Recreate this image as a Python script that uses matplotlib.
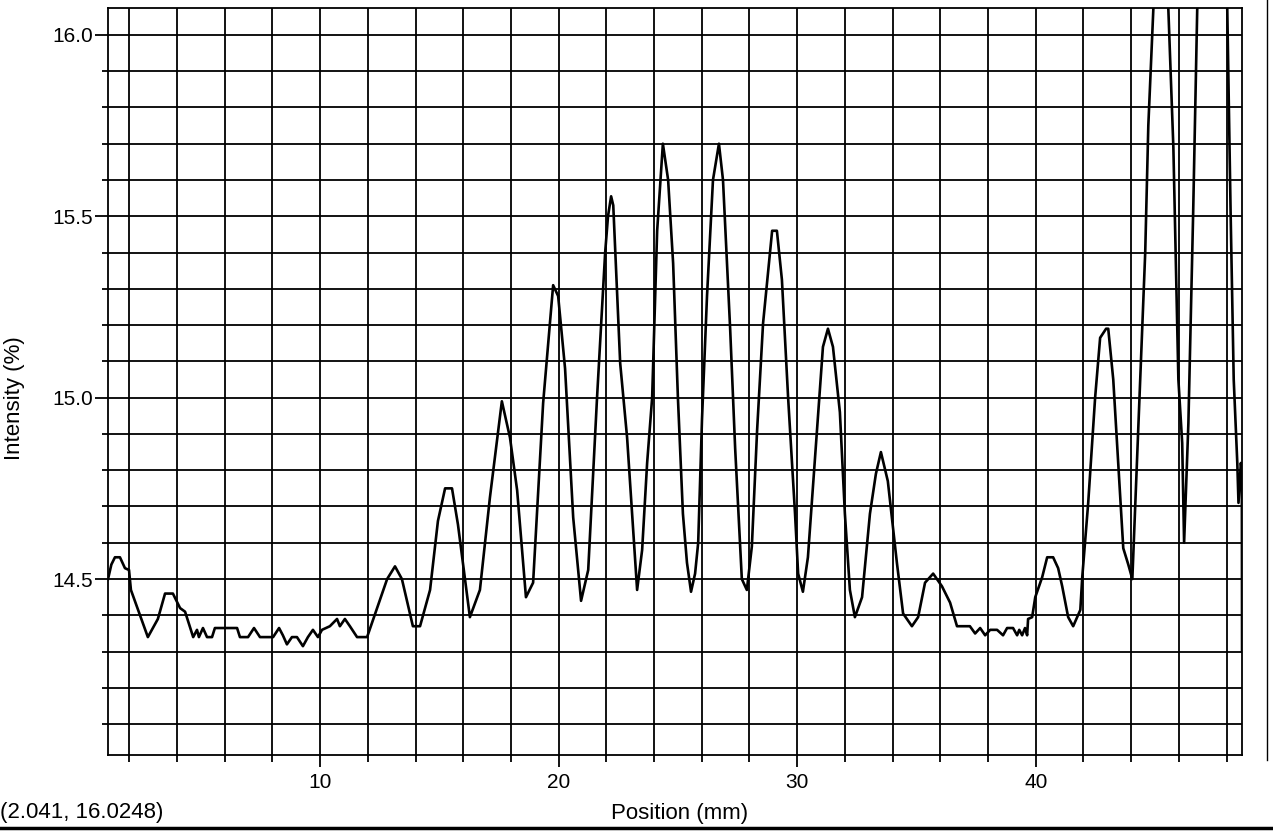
import matplotlib
matplotlib.use("Agg")
import matplotlib.pyplot as plt
from matplotlib.ticker import MultipleLocator, FormatStrFormatter
from matplotlib.lines import Line2D

plt.rcParams['font.family'] = ['Liberation Sans', 'DejaVu Sans']

# profile: position (mm) and intensity (%)
position = [
    1.11, 1.25, 1.40, 1.61, 1.82, 1.99, 2.07, 2.78, 3.20, 3.50,
    3.83, 4.13, 4.34, 4.68, 4.84, 4.92, 5.09, 5.26, 5.47, 5.59,
    6.52, 6.64, 6.98, 7.23, 7.48, 8.03, 8.28, 8.44, 8.61, 8.82,
    9.03, 9.28, 9.49, 9.70, 9.91, 10.08, 10.41, 10.71, 10.83, 11.04,
    11.25, 11.55, 11.97, 12.39, 12.81, 13.14, 13.43, 13.89, 14.19, 14.61,
    14.94, 15.24, 15.53, 15.78, 16.28, 16.70, 17.12, 17.62, 17.96, 18.26,
    18.63, 18.93, 19.35, 19.77, 19.98, 20.27, 20.61, 20.94, 21.24, 21.61,
    21.95, 22.07, 22.20, 22.29, 22.58, 22.87, 23.29, 23.50, 23.71, 23.92,
    24.13, 24.37, 24.59, 24.80, 25.00, 25.21, 25.38, 25.55, 25.72, 25.85,
    26.01, 26.22, 26.47, 26.72, 26.89, 27.19, 27.40, 27.68, 27.89, 28.10,
    28.32, 28.57, 28.95, 29.15, 29.36, 29.62, 29.91, 30.04, 30.24, 30.45,
    30.83, 31.08, 31.29, 31.50, 31.79, 32.00, 32.21, 32.42, 32.72, 33.05,
    33.30, 33.51, 33.80, 34.18, 34.44, 34.81, 35.07, 35.36, 35.70, 36.07,
    36.41, 36.70, 37.24, 37.46, 37.67, 37.88, 38.09, 38.38, 38.63, 38.80,
    39.05, 39.22, 39.31, 39.43, 39.55, 39.64, 39.68, 39.85, 39.98, 40.27,
    40.48, 40.73, 40.94, 41.11, 41.36, 41.57, 41.87, 41.95, 42.20, 42.49,
    42.70, 42.95, 43.04, 43.25, 43.46, 43.67, 43.88, 44.05, 44.17, 44.38,
    44.59, 44.72, 44.93, 45.25, 45.56, 45.77, 45.98, 46.14, 46.22, 46.40,
    46.60, 46.77, 47.40, 48.03, 48.17, 48.30, 48.45, 48.50, 48.60, 48.64,
    48.65,
]
intensity = [
    14.50, 14.54, 14.56, 14.56, 14.53, 14.525, 14.47, 14.34, 14.39, 14.46,
    14.46, 14.42, 14.41, 14.34, 14.36, 14.34, 14.365, 14.34, 14.34, 14.365,
    14.365, 14.34, 14.34, 14.365, 14.34, 14.34, 14.365, 14.345, 14.32, 14.34,
    14.34, 14.315, 14.34, 14.36, 14.34, 14.36, 14.37, 14.39, 14.37, 14.39,
    14.37, 14.34, 14.34, 14.42, 14.50, 14.535, 14.50, 14.37, 14.37, 14.47,
    14.66, 14.75, 14.75, 14.65, 14.395, 14.47, 14.725, 14.99, 14.89, 14.745,
    14.45, 14.49, 14.985, 15.31, 15.28, 15.08, 14.67, 14.44, 14.525, 15.00,
    15.40, 15.50, 15.555, 15.53, 15.095, 14.89, 14.47, 14.58, 14.82, 15.00,
    15.46, 15.70, 15.60, 15.37, 15.00, 14.68, 14.545, 14.465, 14.515, 14.60,
    14.94, 15.28, 15.60, 15.70, 15.60, 15.19, 14.86, 14.50, 14.47, 14.59,
    14.91, 15.205, 15.46, 15.46, 15.325, 15.00, 14.68, 14.515, 14.465, 14.56,
    14.91, 15.14, 15.19, 15.14, 14.96, 14.68, 14.47, 14.395, 14.45, 14.68,
    14.79, 14.85, 14.77, 14.545, 14.405, 14.37, 14.395, 14.49, 14.515, 14.48,
    14.435, 14.37, 14.37, 14.35, 14.365, 14.345, 14.36, 14.36, 14.345, 14.365,
    14.365, 14.345, 14.36, 14.345, 14.365, 14.345, 14.39, 14.395, 14.45, 14.505,
    14.56, 14.56, 14.53, 14.48, 14.395, 14.37, 14.415, 14.505, 14.71, 15.00,
    15.165, 15.19, 15.19, 15.05, 14.82, 14.585, 14.54, 14.50, 14.70, 15.05,
    15.40, 15.75, 16.07, 16.40, 16.07, 15.69, 15.05, 14.875, 14.60, 14.93,
    15.51, 16.07, 16.60, 16.07, 15.51, 15.05, 14.82, 14.71, 14.82, 14.80,
    14.30,
]

fig = plt.figure(figsize=(12.73, 8.35), dpi=100)
ax = fig.add_axes([0.0848, 0.0958, 0.8909, 0.8946])

ax.plot(position, intensity, color='black', lw=1.9)

ax.set_xlim(1.107, 48.65)
ax.set_ylim(14.015, 16.074)

ax.xaxis.set_major_locator(MultipleLocator(10))
ax.xaxis.set_minor_locator(MultipleLocator(2))
ax.yaxis.set_major_locator(MultipleLocator(0.5))
ax.yaxis.set_minor_locator(MultipleLocator(0.1))
ax.yaxis.set_major_formatter(FormatStrFormatter('%.1f'))

ax.grid(which='both', color='black', lw=1.3)
ax.set_axisbelow(True)

ax.tick_params(which='major', axis='x', length=8.6, width=1.3, pad=4.3, labelsize=15)
ax.tick_params(which='minor', axis='x', length=5, width=1.3)
ax.tick_params(which='major', axis='y', length=9.4, width=1.3, pad=1.5, labelsize=15)
ax.tick_params(which='minor', axis='y', length=4, width=1.3)

for s in ax.spines.values():
    s.set_linewidth(1.3)

ax.set_xlabel('Position (mm)', fontsize=16)
ax.set_ylabel('Intensity (%)', fontsize=16)
ax.xaxis.set_label_coords(0.504, -0.064)
ax.yaxis.set_label_coords(-0.073, 0.478)

fig.text(0.0, 0.0275, '(2.041, 16.0248)', fontsize=16, ha='left', va='center')

# frame bits of the printout
fig.add_artist(Line2D([0.0, 1.0], [0.0084, 0.0084], color='black', lw=2.5))
fig.add_artist(Line2D([0.9953, 0.9953], [0.09, 1.0], color='black', lw=1.0))

fig.savefig('out.png', dpi=100)
